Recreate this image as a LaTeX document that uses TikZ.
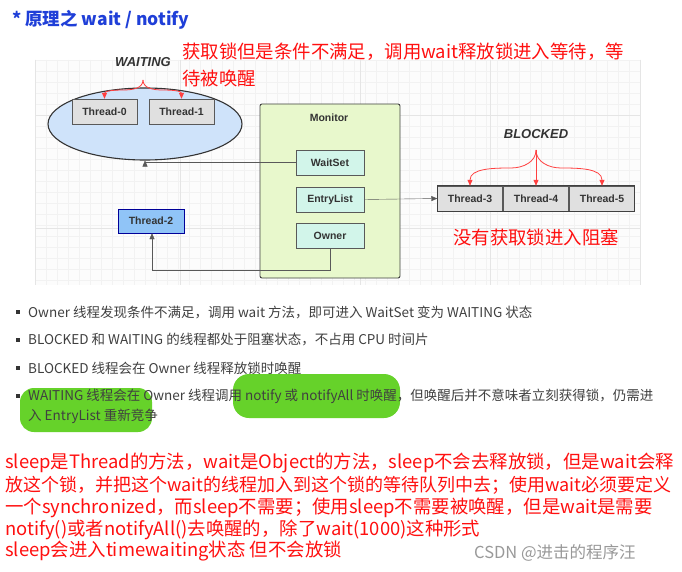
\documentclass[tikz,border=0pt]{standalone}
\usepackage{fontspec}
\setmainfont{Noto Sans CJK SC}
\newfontfamily\cjk{Noto Sans CJK SC}
\newfontfamily\lat{Liberation Sans}
\usetikzlibrary{arrows.meta,shapes.geometric}
\definecolor{rd}{HTML}{FF1010}
\definecolor{ttl}{HTML}{1F3FD8}
\definecolor{ebl}{HTML}{CFE3FA}
\definecolor{mon}{HTML}{E8F8CC}
\definecolor{mint}{HTML}{D2F5EA}
\definecolor{t2}{HTML}{90C4F7}
\definecolor{grn}{HTML}{66D22A}
\tikzset{
 tbox/.style={draw=black!65,fill=black!12,minimum width=65pt,minimum height=25pt,inner sep=0pt,font=\lat\bfseries\fontsize{10.5}{11}\selectfont,text=black!80},
 mbox/.style={draw=black!65,fill=mint,minimum width=68pt,minimum height=25pt,inner sep=0pt,font=\lat\bfseries\fontsize{10.5}{11}\selectfont,text=black!80},
 conn/.style={draw=black!65,-{Triangle[length=6pt,width=5pt]}},
 brace/.style={draw=rd!80,line width=0.8pt,-{Triangle[length=6pt,width=5pt]}},
 redtxt/.style={anchor=west,inner sep=0pt,text=rd,font=\fontsize{18.4}{20}\selectfont},
 bul/.style={anchor=west,inner sep=0pt,text=black!75,font=\fontsize{13.5}{15}\selectfont},
 state/.style={font=\lat\bfseries\itshape\fontsize{13}{14}\selectfont,text=black!80,inner sep=0pt}
}
\begin{document}
\begin{tikzpicture}[x=1pt,y=-1pt]
\useasboundingbox[fill=white] (0,0) rectangle (682,572);
% grid
\fill[black!1] (35,60) rectangle (640,285);
\foreach \x in {35,46,...,640} \draw[black!5,line width=0.3pt] (\x,60) -- (\x,285);
\foreach \y in {60,71,...,285} \draw[black!5,line width=0.3pt] (35,\y) -- (640,\y);
\foreach \x in {35,180,360,490,640} \draw[black!10,line width=0.4pt] (\x,60) -- (\x,285);
\foreach \y in {115,228} \draw[black!10,line width=0.4pt] (35,\y) -- (640,\y);
% title
\node[anchor=west,inner sep=0pt,text=ttl,font=\bfseries\fontsize{17.5}{18}\selectfont] (title) at (12,20) {* 原理之 wait / notify};
% red top text
\node[redtxt] (r1) at (182,52) {获取锁但是条件不满足，调用wait释放锁进入等待，等};
\node[redtxt] (r2) at (182,78) {待被唤醒};
% waiting
\node[draw=black!80,fill=ebl,ellipse,minimum width=194pt,minimum height=72pt,line width=1.1pt] (ell) at (145,124) {};
\node[state] (wt) at (143,62) {WAITING};
\node[tbox] (t0) at (104.5,111.5) {Thread-0};
\node[tbox] (t1) at (181.5,111.5) {Thread-1};
\coordinate (wb) at (143,80);
\draw[brace] (wb) to[out=-90,in=0] ++(-20,10) to[out=180,in=90] (t0.north);
\draw[brace] (wb) to[out=-90,in=180] ++(20,10) to[out=0,in=90] (t1.north);
% monitor
\node[draw=black!75,fill=mon,rounded corners=2pt,line width=0.9pt,minimum width=140pt,minimum height=174pt] (mon) at (330,191) {};
\node[font=\lat\bfseries\fontsize{10.5}{11}\selectfont,text=black!80] (monl) at (329,118) {Monitor};
\node[mbox] (ws) at (330,162.5) {WaitSet};
\node[mbox] (el) at (330,199.5) {EntryList};
\node[mbox] (ow) at (330,235.5) {Owner};
\node[draw=blue!60!black,fill=t2,minimum width=66pt,minimum height=24pt,inner sep=0pt,font=\lat\bfseries\fontsize{10.5}{11}\selectfont,text=black!80] (t2) at (151,221) {Thread-2};
\draw[conn] (ws.west) -| (ell.south);
\draw[conn] (ow.south) |- (152,270) -- (t2.south -| 152,0);
% blocked
\node[tbox] (t3) at (470,198.5) {Thread-3};
\node[tbox] (t4) at (536,198.5) {Thread-4};
\node[tbox] (t5) at (602,198.5) {Thread-5};
\draw[draw=black!75,line width=0.8pt] (t3.north west) rectangle (t5.south east);
\draw[conn] (el.east) -- (t3.west);
\node[state] (bl) at (536,134) {BLOCKED};
\coordinate (bb) at (536,150);
\draw[brace] (bb) -- (t4.north);
\draw[brace] (bb) to[out=-90,in=0] ++(-25,18) to[out=180,in=90] (t3.north);
\draw[brace] (bb) to[out=-90,in=180] ++(25,18) to[out=0,in=90] (t5.north);
\node[redtxt] (r3) at (453,237) {没有获取锁进入阻塞};
% bullets
\fill[grn,rounded corners=14pt] (20,388) rectangle (152,432);
\fill[grn,rounded corners=16pt] (233,374) rectangle (400,418);
\foreach \y in {312,340,368,396} \fill[black!80] (16,\y-2) rectangle (20,\y+2);
\node[bul] (b1) at (28,312) {Owner 线程发现条件不满足，调用 wait 方法，即可进入 WaitSet 变为 WAITING 状态};
\node[bul] (b2) at (28,340) {BLOCKED 和 WAITING 的线程都处于阻塞状态，不占用 CPU 时间片};
\node[bul] (b3) at (28,368) {BLOCKED 线程会在 Owner 线程释放锁时唤醒};
\node[bul] (b4) at (28,396) {WAITING 线程会在 Owner 线程调用 notify 或 notifyAll 时唤醒，但唤醒后并不意味者立刻获得锁，仍需进};
\node[bul] (b5) at (28,416) {入 EntryList 重新竞争};
% red paragraph
\node[redtxt] (p1) at (5,463) {sleep是Thread的方法，wait是Object的方法，sleep不会去释放锁，但是wait会释};
\node[redtxt,font=\fontsize{18}{20}\selectfont] (p2) at (5,485) {放这个锁，并把这个wait的线程加入到这个锁的等待队列中去；使用wait必须要定义};
\node[redtxt] (p3) at (5,508) {一个synchronized，而sleep不需要；使用sleep不需要被唤醒，但是wait是需要};
\node[redtxt] (p4) at (5,530) {notify()或者notifyAll()去唤醒的，除了wait(1000)这种形式};
\node[redtxt] (p5) at (5,551) {sleep会进入timewaiting状态 但不会放锁};
\node[anchor=west,inner sep=0pt,text=black!40,font=\fontsize{16.5}{17}\selectfont] (wm) at (474,553) {CSDN @进击的程序汪};
\end{tikzpicture}
\end{document}
